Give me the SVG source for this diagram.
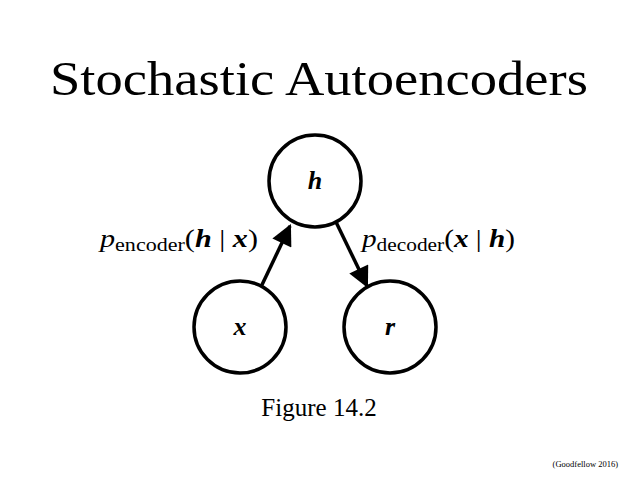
<svg xmlns="http://www.w3.org/2000/svg" width="638" height="479" viewBox="0 0 638 479">
<style>
.n{fill:#fff;stroke:#000;stroke-width:3.5}
.t{font-family:"Liberation Serif",serif;fill:#000}
.b{font-family:"Liberation Serif",serif;font-weight:bold;font-style:italic;font-size:26px}
.e{stroke:#000;stroke-width:3.5;fill:none}
</style>
<defs><marker id="a" viewBox="0 0 10 10" refX="9" refY="5" markerWidth="7" markerHeight="6" orient="auto" markerUnits="strokeWidth"><path d="M0,0L10,5L0,10z" fill="#000"/></marker></defs>
<rect width="638" height="479" fill="#fff"/>
<text class="t" x="319" y="95" font-size="49" text-anchor="middle" textLength="538" lengthAdjust="spacingAndGlyphs">Stochastic Autoencoders</text>
<g id="edges">
<line class="e" x1="260" y1="289" x2="290" y2="226" marker-end="url(#a)"/>
<line class="e" x1="336" y1="222" x2="367" y2="286" marker-end="url(#a)"/>
</g>
<g id="h"><circle class="n" cx="315" cy="181" r="46"/><text class="t b" x="315" y="189" text-anchor="middle">h</text></g>
<g id="x"><circle class="n" cx="240" cy="327" r="46"/><text class="t b" x="240" y="335" text-anchor="middle">x</text></g>
<g id="r"><circle class="n" cx="390" cy="327" r="46"/><text class="t b" x="390" y="335" text-anchor="middle">r</text></g>
<text class="t" x="100" y="247" font-size="26" textLength="158" lengthAdjust="spacingAndGlyphs"><tspan font-style="italic">p</tspan><tspan font-size="19" dy="4">encoder</tspan><tspan dy="-4">(</tspan><tspan font-weight="bold" font-style="italic">h</tspan> | <tspan font-weight="bold" font-style="italic">x</tspan>)</text>
<text class="t" x="362" y="247" font-size="26" textLength="153" lengthAdjust="spacingAndGlyphs"><tspan font-style="italic">p</tspan><tspan font-size="19" dy="4">decoder</tspan><tspan dy="-4">(</tspan><tspan font-weight="bold" font-style="italic">x</tspan> | <tspan font-weight="bold" font-style="italic">h</tspan>)</text>
<text class="t" x="319" y="416" font-size="25" text-anchor="middle">Figure 14.2</text>
<text class="t" x="618" y="467" font-size="8.5" text-anchor="end">(Goodfellow 2016)</text>
</svg>
